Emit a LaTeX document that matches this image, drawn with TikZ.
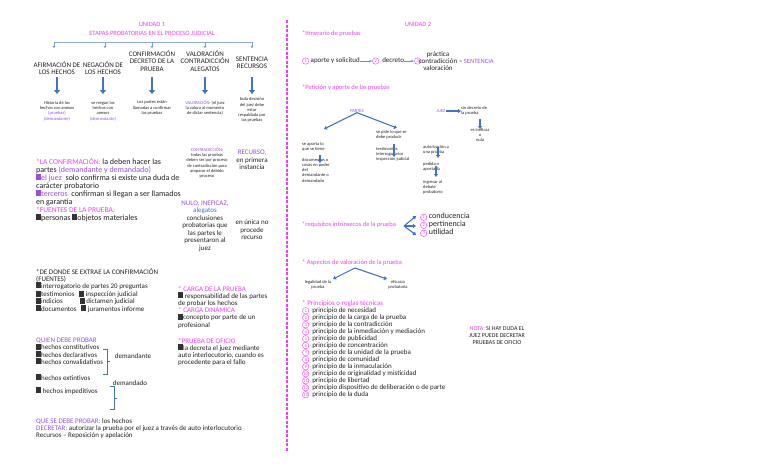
\documentclass[tikz,border=0pt]{standalone}
\usepackage{fontspec}
\setmainfont{Carlito}
\usetikzlibrary{arrows.meta}
\definecolor{mag}{HTML}{F040F0}
\definecolor{pur}{HTML}{9950E0}
\definecolor{blu}{HTML}{4472C4}
\definecolor{txt}{HTML}{222222}
\newcommand{\sqb}{{\color{black!80}\rule{5pt}{6pt}}}
\newcommand{\sqp}{{\color{pur}\rule{5pt}{6pt}}}
\newcommand{\cnum}[1]{\tikz[baseline=(cc.base)]\node[circle,draw=mag,line width=0.4pt,inner sep=0.2pt,minimum size=6.5pt,text=mag,font=\fontsize{4.5}{4.5}\selectfont](cc){#1};}
\tikzset{x=1pt,y=-1pt,
 tt/.style={font=\fontsize{8}{8}\selectfont,text=txt,inner sep=0pt,align=left},
 hd/.style={font=\fontsize{7}{7.5}\selectfont,text=txt,inner sep=0pt,align=center},
 sm/.style={font=\fontsize{4.5}{5.2}\selectfont,text=txt,inner sep=0pt,align=center},
 sml/.style={sm,align=left},
 bar/.style={blu,line width=1.6pt,-{Triangle[length=4pt,width=6pt]}},
 thin/.style={blu,line width=1.1pt,-{Triangle[length=3pt,width=4pt]}},
 tick/.style={blu!70,line width=0.6pt,-{Triangle[length=2pt,width=3pt]}},
 stp/.style={blu!60!cyan,line width=0.7pt,-{Stealth[length=3pt]}}}
\begin{document}
\begin{tikzpicture}
\useasboundingbox[fill=white] (0,0) rectangle (768,466);
\draw[mag,line width=1.2pt,dash pattern=on 3pt off 1.5pt] (287,20) -- (287,452);
% UNIDAD 1
\node[hd,text=mag,font=\fontsize{6.5}{7}\selectfont] (u1) at (152,24) {UNIDAD 1};
\node[hd,text=mag,font=\fontsize{6.5}{7}\selectfont] (et) at (152,33) {ETAPAS PROBATORIAS EN EL PROCESO JUDICIAL};
\draw[blu!60,line width=0.8pt] (54,42) -- (252,42);
\foreach \x/\n in {54/a,105/b,152/c,205/d,252/e}{\coordinate (t\n) at (\x,42);\coordinate (s\n) at (\x,48);\draw[tick] (t\n) -- (s\n);}
\node[hd] (h1) at (57,68) {AFIRMACIÓN DE\\LOS HECHOS};
\node[hd] (h2) at (103,68) {NEGACIÓN DE\\LOS HECHOS};
\node[hd] (h3) at (152,61) {CONFIRMACIÓN\\DECRETO DE LA\\PRUEBA};
\node[hd] (h4) at (205,61) {VALORACIÓN\\CONTRADICCIÓN\\ALEGATOS};
\node[hd] (h5) at (252,63) {SENTENCIA\\RECURSOS};
\node[sm] (d1) at (57,111) {Historia de los\\hechos con anexos\\{\color{pur}(pruebas)}\\{\color{pur}(demandante)}};
\node[sm] (d2) at (103,111) {se niegan los\\hechos con\\anexos\\{\color{pur}(demandante)}};
\node[sm] (d3) at (152,108) {Los partes están\\llamadas a confirmar\\las pruebas};
\node[sm] (d4) at (205,108) {{\color{pur}VALORACIÓN:} (el juez\\la valora al momento\\de dictar sentencia)};
\node[sm] (d5) at (252,110) {toda decisión\\del juez debe\\estar\\respaldada por\\las pruebas};
\draw[bar] (57,77) -- (57,94);
\draw[bar] (103,77) -- (103,94);
\draw[bar] (152,77) -- (152,94);
\draw[bar] (205,77) -- (205,94);
\draw[bar] (252,77) -- (252,94);
% middle column
\node[sm] (con) at (207,163) {{\color{pur}CONTRADICCIÓN:}\\todas las pruebas\\deben ser por proceso\\de contradicción para\\amparar el debido\\proceso};
\node[hd] (rec) at (252,160) {{\color{pur}RECURSO,}\\en primera\\instancia};
\node[hd] (nul) at (205,226) {{\color{pur}NULO, INEFICAZ,}\\{\color{blu}alegatos}\\conclusiones\\probatorias que\\las partes le\\presentaron al\\juez};
\node[hd] (uni) at (252,230) {en única no\\procede\\recurso};
% left text
\node[tt,anchor=north west] (conf) at (36,158) {{\color{mag}\fontsize{7.5}{8}\selectfont *LA CONFIRMACIÓN:} la deben hacer las\\partes {\color{pur}(demandante y demandado)}\\\sqp{\color{pur}el juez}\ \ solo confirma si existe una duda de\\carácter probatorio\\\sqp{\color{pur}terceros}\ \ confirman si llegan a ser llamados\\en garantía\\{\color{mag}\fontsize{7.5}{8}\selectfont *FUENTES DE LA PRUEBA:}\\\sqb personas \sqb objetos materiales};
\node[tt,anchor=north west,font=\fontsize{7}{7.2}\selectfont] (dd) at (36,268) {*DE DONDE SE EXTRAE LA CONFIRMACIÓN\\(FUENTES)\\\sqb interrogatorio de partes 20 preguntas\\\sqb testimonios\ \ \ \sqb\ inspección judicial\\\sqb indicios\hspace{17pt}\sqb\ dictamen judicial\\\sqb documentos\ \ \ \sqb\ juramentos informe};
\node[tt,anchor=north west,font=\fontsize{7}{7.2}\selectfont] (car) at (178,286) {{\color{mag}* CARGA DE LA PRUEBA}\\\sqb\ responsabilidad de las partes\\de probar los hechos\\{\color{mag}* CARGA DINÁMICA}\\\sqb concepto por parte de un\\profesional};
\node[tt,anchor=north west,font=\fontsize{7}{7.2}\selectfont] (ofi) at (178,338) {{\color{mag}*PRUEBA DE OFICIO}\\\sqb la decreta el juez mediante\\auto interlocutorio, cuando es\\procedente para el fallo};
\node[tt,anchor=north west,font=\fontsize{7}{7.2}\selectfont] (qd) at (36,338) {{\color{pur}QUIEN DEBE PROBAR}\\\sqb hechos constitutivos\\\sqb hechos declarativos\\\sqb hechos convalidativos};
\node[tt,anchor=north west,font=\fontsize{7}{7.2}\selectfont] (ext) at (36,374) {\sqb hechos extintivos};
\node[tt,anchor=north west,font=\fontsize{7}{7.2}\selectfont] (imp) at (36,387) {\sqb\ hechos impeditivos};
\draw[blu,line width=0.7pt] (103,349) -- (107,349) -- (107,374) -- (103,374) (107,361) -- (110,361);
\draw[blu,line width=0.7pt] (110,386) -- (114,386) -- (114,409) -- (110,409) (114,398) -- (117,398);
\node[tt,font=\fontsize{7}{7}\selectfont] (dem) at (133,356) {demandante};
\node[tt,font=\fontsize{7}{7}\selectfont] (dmd) at (130,383) {demandado};
\node[tt,anchor=north west,font=\fontsize{7}{7.2}\selectfont] (qs) at (36,418) {{\color{pur}QUE SE DEBE PROBAR:} los hechos\\{\color{pur}DECRETAR:} autorizar la prueba por el juez a través de auto interlocutorio\\Recursos -- Reposición y apelación};
% UNIDAD 2
\node[hd,text=mag,font=\fontsize{6.5}{7}\selectfont] (u2) at (418,24) {UNIDAD 2};
\node[tt,anchor=west,text=mag,font=\fontsize{6.5}{7}\selectfont] (iti) at (302,34) {*Itinerario de pruebas};
\node[tt,anchor=west,font=\fontsize{7}{7}\selectfont] (s1) at (302,61) {\cnum{1} aporte y solicitud};
\node[tt,anchor=west,font=\fontsize{7}{7}\selectfont] (s2) at (372,61) {\cnum{2}\ \ decreto};
\node[tt,anchor=west,font=\fontsize{7}{7}\selectfont] (s3) at (414,61) {\cnum{3}};
\node[tt,font=\fontsize{7}{7.2}\selectfont,align=center] (s3t) at (438,61) {práctica\\contradicción\\valoración};
\node[tt,anchor=west,font=\fontsize{6.5}{7}\selectfont,text=pur] (sen) at (459,61) {= SENTENCIA};
\draw[stp] (s1.east) -- (s2.west);
\draw[stp] (s2.east) -- (s3.west);
\node[tt,anchor=west,text=mag,font=\fontsize{6.5}{7}\selectfont] (pet) at (302,88) {*Petición y aporte de las pruebas};
\node[sm,text=pur] (par) at (357,111) {PARTES};
\node[sm,text=pur] (juez) at (441,111) {JUEZ};
\node[sml,anchor=north west] (sin) at (461,106) {sin decreto de\\la prueba};
\node[sm] (inf) at (480,135) {es ineficaz\\o\\nula};
\node[sml,anchor=north west] (ap) at (302,142) {se aporta lo\\que se tiene};
\node[sml,anchor=north west] (doc) at (302,158) {documentos o\\cosas en poder\\del\\demandante o\\demandado};
\node[sml,anchor=north west] (pid) at (376,130) {se pide lo que se\\debe producir};
\node[sml,anchor=north west] (tes) at (376,147) {testimonios\\interrogatorios\\inspección judicial};
\node[sml,anchor=north west] (aut) at (423,145) {autorización a\\una prueba};
\node[sml,anchor=north west] (ped) at (423,162) {pedida o\\aportada};
\node[sml,anchor=north west] (ing) at (423,180) {ingresar al\\debate\\probatorio};
\draw[thin] (par.south) -- (324,129);
\draw[thin] (par.south) -- (397,128);
\draw[thin] (juez.east) -- (461,111);
\draw[thin] (480,119) -- (480,129);
\draw[thin] (320,155) -- (320,163);
\draw[thin] (394,144) -- (394,157);
\draw[thin] (438,147) -- (438,158);
\draw[thin] (436,166) -- (436,177);
\node[tt,anchor=west,text=mag,font=\fontsize{6.5}{7}\selectfont] (req) at (302,225) {*requisitos intrínsecos de la prueba};
\node[tt,anchor=west] (r1) at (420,217) {\cnum{1} conducencia};
\node[tt,anchor=west] (r2) at (420,225) {\cnum{2} pertinencia};
\node[tt,anchor=west] (r3) at (420,233) {\cnum{3} utilidad};
\draw[thin] (404,226) -- (416,216);
\draw[thin] (404,226) -- (416,226);
\draw[thin] (404,226) -- (416,235);
\node[tt,anchor=west,text=mag,font=\fontsize{6.5}{7}\selectfont] (asp) at (302,263) {* Aspectos de valoración de la prueba};
\node[sm] (leg) at (318,285) {legalidad de la\\prueba};
\node[sm] (efi) at (398,285) {eficacia\\probatoria};
\coordinate (ap0) at (355,268);
\draw[thin] (ap0) -- (333,279);
\draw[thin] (ap0) -- (387,279);
\node[tt,anchor=north west,font=\fontsize{7}{7}\selectfont] (pri) at (302,300) {{\color{mag}* Principios o reglas técnicas}\\
\cnum{1}\ \ principio de necesidad\\
\cnum{2}\ \ principio de la carga de la prueba\\
\cnum{3}\ \ principio de la contradicción\\
\cnum{4}\ \ principio de la inmediación y mediación\\
\cnum{5}\ \ principio de publicidad\\
\cnum{6}\ \ principio de concentración\\
\cnum{7}\ \ principio de la unidad de la prueba\\
\cnum{8}\ \ principio de comunidad\\
\cnum{9}\ \ principio de la inmaculación\\
\cnum{10}\ \ principio de originalidad y misticidad\\
\cnum{11}\ \ principio de libertad\\
\cnum{12}\ \ principio dispositivo de deliberación o de parte\\
\cnum{13}\ \ principio de la duda};
\node[hd,font=\fontsize{6}{7}\selectfont] (nota) at (497,336) {{\color{mag}NOTA:} SI HAY DUDA EL\\JUEZ PUEDE DECRETAR\\PRUEBAS DE OFICIO};
\end{tikzpicture}
\end{document}
